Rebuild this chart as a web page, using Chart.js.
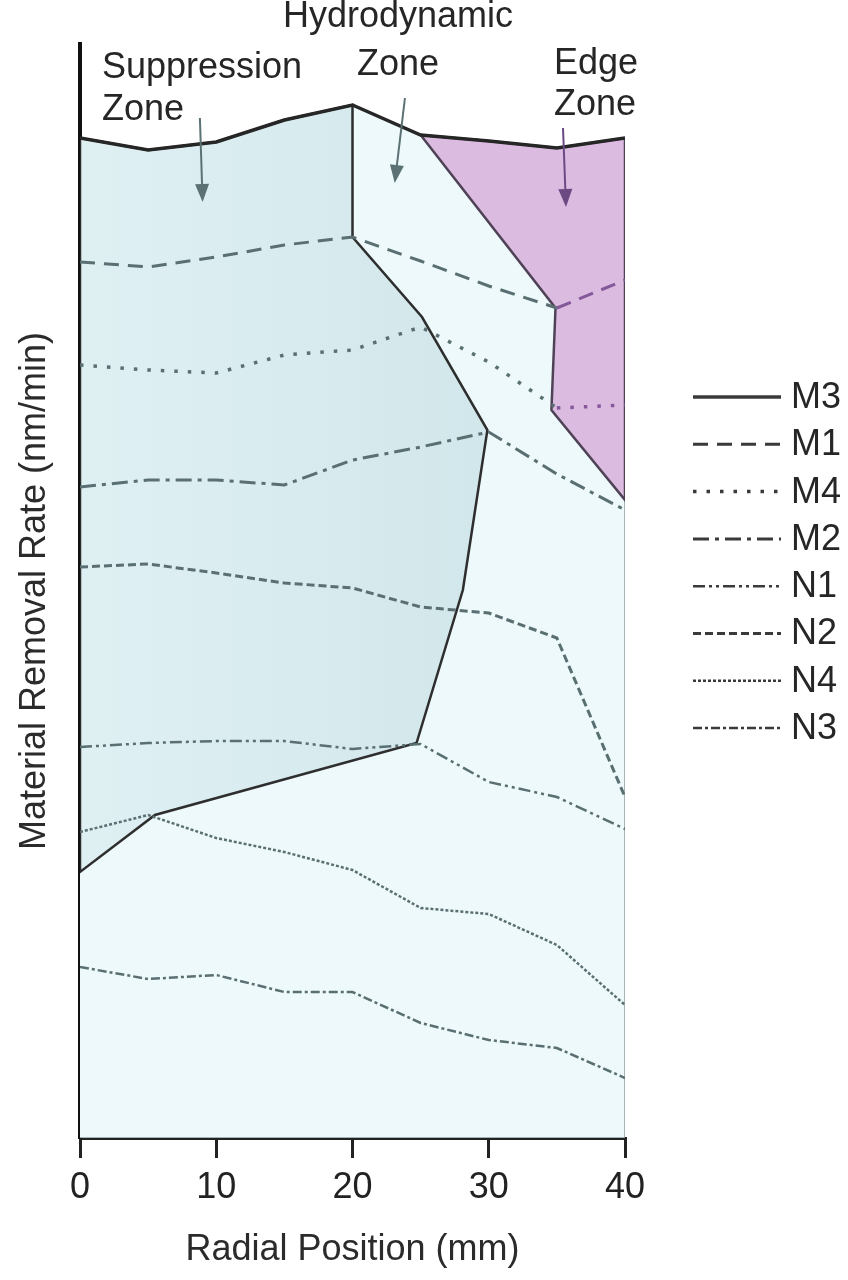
<!DOCTYPE html>
<html>
<head>
<meta charset="utf-8">
<script src="https://cdn.jsdelivr.net/npm/chart.js@4.4.1/dist/chart.umd.min.js"></script>
<style>
  html, body { margin: 0; padding: 0; background: #fff; }
  #wrap { width: 848px; height: 1280px; }
</style>
</head>
<body>
<div id="wrap"><canvas id="mrrChart" width="848" height="1280"></canvas></div>
<script>
// radial positions (mm) and x tick labels
const radialPos = [0, 5, 10, 15, 20, 25, 30, 35, 40];
const xTicks = [0, 10, 20, 30, 40];

// removal rate per pattern (figure has no y ticks, values are relative)
const m3 = [100.0, 98.8, 99.6, 101.8, 103.3, 100.3, 99.7, 99.0, 100.0];
const m1 = [87.6, 87.1, 88.1, 89.3, 90.1, 87.7, 85.2, 83.0, 85.8];
const m4 = [77.3, 76.8, 76.5, 78.3, 78.8, 81.1, 77.6, 73.0, 73.3];
const m2 = [65.1, 65.8, 65.8, 65.3, 67.8, 69.1, 70.6, 66.4, 62.8];
const n1 = [39.1, 39.5, 39.7, 39.7, 38.9, 39.4, 35.6, 34.1, 30.9];
const n2 = [57.1, 57.4, 56.5, 55.5, 55.0, 53.1, 52.5, 50.0, 34.1];
const n4 = [30.6, 32.3, 30.0, 28.6, 26.8, 23.0, 22.4, 19.3, 13.3];
const n3 = [17.1, 15.9, 16.3, 14.6, 14.6, 11.5, 9.8, 9.0, 6.0];

// zone outlines (the top edge follows M3)
const suppBoundX = [20, 25.1, 29.9, 28.1, 24.7, 5.5, 0];
const suppBoundY = [90.1, 82.1, 70.8, 54.8, 39.5, 32.3, 26.6];
const edgeBoundX = [40, 34.6, 34.9];
const edgeBoundY = [63.8, 72.8, 83.0];

const FONT = '"Liberation Sans", Arial, Helvetica, sans-serif';
const lineGray = '#5a6f72';
const linePurple = '#84589a';

const pts = (xs, ys) => xs.map((x, i) => ({ x: x, y: ys[i] }));
const m3Pts = pts(radialPos, m3);

const hydroShape = m3Pts.concat([{ x: 40, y: 0 }, { x: 0, y: 0 }]);
const suppShape = m3Pts.slice(0, 5).concat(pts(suppBoundX, suppBoundY));
suppShape.push(suppShape[0]);
const edgeShape = m3Pts.slice(5).concat(pts(edgeBoundX, edgeBoundY));
edgeShape.push(edgeShape[0]);

// point in polygon, used to tint line pieces that run through the edge zone
function inEdge(x, y) {
  let inside = false;
  for (let i = 0, j = edgeShape.length - 1; i < edgeShape.length; j = i++) {
    const a = edgeShape[i], b = edgeShape[j];
    if ((a.y > y) !== (b.y > y) && x < (b.x - a.x) * (y - a.y) / (b.y - a.y) + a.x) inside = !inside;
  }
  return inside;
}
const tint = c => inEdge((c.p0.parsed.x + c.p1.parsed.x) / 2, (c.p0.parsed.y + c.p1.parsed.y) / 2) ? linePurple : lineGray;

// light teal, a bit deeper towards the zone boundary
function suppFill(c) {
  const area = c.chart.chartArea;
  if (!area) return '#dbedf0';
  const g = c.chart.ctx.createLinearGradient(area.left, 0, area.left + 410, 0);
  g.addColorStop(0, '#dff0f3');
  g.addColorStop(1, '#d2e7eb');
  return g;
}

function series(label, values, dash, width, row) {
  return {
    label: label,
    data: pts(radialPos, values),
    borderColor: lineGray,
    borderDash: dash,
    borderWidth: width,
    fill: false,
    order: 1,
    legendRow: row,
    segment: { borderColor: tint }
  };
}

const datasets = [
  { label: 'M3', data: m3Pts, borderColor: '#262626', borderWidth: 3.5, borderDash: [], fill: false, order: 0, legendRow: 0 },
  series('M1', m1, [15, 9], 3, 1),
  series('M4', m4, [3.5, 10], 3.5, 2),
  series('M2', m2, [16, 6, 4, 6], 3, 3),
  series('N1', n1, [12, 4, 3, 4, 3, 4], 2.5, 4),
  series('N2', n2, [8, 4], 3, 5),
  series('N4', n4, [3, 2], 2.5, 6),
  series('N3', n3, [9, 3, 3, 3], 2.5, 7),
  { label: 'Hydrodynamic Zone', data: hydroShape, fill: 'shape', backgroundColor: '#edf9fb', borderColor: '#8d9c9e', borderWidth: 1.5, order: 10 },
  { label: 'Suppression Zone', data: suppShape, fill: 'shape', backgroundColor: suppFill, borderColor: '#2e2e2e', borderWidth: 2.5, order: 9 },
  { label: 'Edge Zone', data: edgeShape, fill: 'shape', backgroundColor: '#dcbbe0', borderColor: '#4f4256', borderWidth: 2.5, order: 8 }
];

// zone captions and arrows
const zoneLabels = [
  { lines: ['Suppression', 'Zone'], x: 102, y: [68, 110], align: 'left' },
  { lines: ['Hydrodynamic', 'Zone'], x: 398, y: [17, 65], align: 'center' },
  { lines: ['Edge', 'Zone'], x: 554, y: [64, 105], align: 'left' }
];
const zoneArrows = [
  { from: [8.8, 102.0], to: [9.0, 93.6], color: '#5b7174' },
  { from: [23.85, 104.0], to: [23.1, 95.5], color: '#5b7174' },
  { from: [35.45, 101.0], to: [35.67, 93.1], color: '#6b4a84' }
];

const zonePlugin = {
  id: 'zones',
  afterDatasetsDraw(chart) {
    const ctx = chart.ctx, xs = chart.scales.x, ys = chart.scales.y;
    ctx.save();
    zoneArrows.forEach(a => {
      const x0 = xs.getPixelForValue(a.from[0]), y0 = ys.getPixelForValue(a.from[1]);
      const x1 = xs.getPixelForValue(a.to[0]), y1 = ys.getPixelForValue(a.to[1]);
      const ang = Math.atan2(y1 - y0, x1 - x0);
      ctx.strokeStyle = a.color;
      ctx.fillStyle = a.color;
      ctx.lineWidth = 2;
      ctx.beginPath();
      ctx.moveTo(x0, y0);
      ctx.lineTo(x1 - 14 * Math.cos(ang), y1 - 14 * Math.sin(ang));
      ctx.stroke();
      ctx.beginPath();
      ctx.moveTo(x1, y1);
      ctx.lineTo(x1 - 18 * Math.cos(ang) + 7 * Math.sin(ang), y1 - 18 * Math.sin(ang) - 7 * Math.cos(ang));
      ctx.lineTo(x1 - 18 * Math.cos(ang) - 7 * Math.sin(ang), y1 - 18 * Math.sin(ang) + 7 * Math.cos(ang));
      ctx.closePath();
      ctx.fill();
    });
    ctx.restore();
  },
  afterDraw(chart) {
    const ctx = chart.ctx;
    ctx.save();
    ctx.fillStyle = '#262626';
    ctx.font = '36px ' + FONT;
    ctx.textBaseline = 'middle';
    zoneLabels.forEach(z => {
      ctx.textAlign = z.align;
      z.lines.forEach((t, i) => ctx.fillText(t, z.x, z.y[i]));
    });

    // legend on the right
    ctx.textAlign = 'left';
    chart.data.datasets.forEach(ds => {
      if (ds.legendRow === undefined) return;
      const y = 397 + ds.legendRow * 47.3;
      ctx.beginPath();
      ctx.setLineDash(ds.borderDash || []);
      ctx.lineWidth = ds.borderWidth;
      ctx.strokeStyle = '#3a3a3a';
      ctx.moveTo(693, y);
      ctx.lineTo(781, y);
      ctx.stroke();
      ctx.setLineDash([]);
      ctx.fillText(ds.label, 791, y + 1);
    });
    ctx.restore();
  }
};

Chart.defaults.font.family = FONT;

new Chart(document.getElementById('mrrChart'), {
  type: 'line',
  data: { datasets: datasets },
  plugins: [zonePlugin],
  options: {
    responsive: false,
    animation: false,
    devicePixelRatio: 1,
    layout: { padding: { top: 44, right: 223, bottom: 0, left: 0 } },
    elements: { point: { radius: 0, hoverRadius: 0 }, line: { tension: 0 } },
    plugins: { legend: { display: false }, tooltip: { enabled: false } },
    scales: {
      x: {
        type: 'linear',
        min: 0,
        max: 40,
        afterFit: s => { s.height = 142; },
        afterBuildTicks: s => { s.ticks = xTicks.map(v => ({ value: v })); },
        ticks: { padding: 8, color: '#222', font: { size: 36 } },
        grid: { drawOnChartArea: false, drawTicks: true, tickLength: 20, lineWidth: 3, color: '#222' },
        border: { display: true, width: 3, color: '#222' },
        title: { display: true, text: 'Radial Position (mm)', color: '#2b2b2b', font: { size: 36 }, padding: { top: 0, bottom: 8 } }
      },
      y: {
        min: 0,
        max: 109.4,
        afterFit: s => { s.width = 80; },
        ticks: { display: false },
        grid: { display: false, drawTicks: false },
        border: { display: true, width: 4, color: '#111' },
        title: { display: true, text: 'Material Removal Rate (nm/min)', color: '#2b2b2b', font: { size: 36 }, padding: { top: 13, bottom: 0 } }
      }
    }
  }
});
</script>
</body>
</html>
